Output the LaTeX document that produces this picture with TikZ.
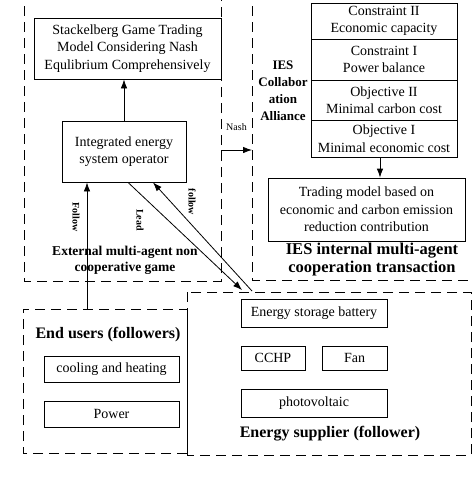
\documentclass[tikz,border=0pt]{standalone}
\usepackage{fontspec}
\setmainfont{Liberation Serif}
\usetikzlibrary{arrows.meta}

\tikzset{
  box/.style={draw, line width=0.8pt, align=center, inner sep=0pt, font=\fontsize{14}{17.5}\selectfont},
  zone/.style={draw, line width=0.9pt, dash pattern=on 10pt off 6pt},
  tag/.style={font=\bfseries\fontsize{16}{18}\selectfont, align=center, inner sep=0pt},
  arr/.style={-{Latex[length=9pt,width=6.5pt]}, line width=0.8pt},
  lbl/.style={font=\bfseries\fontsize{10}{11}\selectfont, rotate=-90, inner sep=0pt}
}

\begin{document}
\begin{tikzpicture}[x=1pt,y=1pt,yscale=-1,xscale=1]
\clip (0,0) rectangle (474,483);

%Dashed zones
\draw [zone] (24,-10) -- (24,281) -- (221,281) -- (221,-10) ;
\draw [zone] (252,-10) -- (252,280) -- (490,280) ;
\draw [zone] (187,292) rectangle (471,455) ;
\draw [zone] (187,453) -- (23,453) -- (23,309) -- (187,309) ;
\draw [line width=0.8pt] (187,309) -- (187,453) ;

%Leader side
\node [box, minimum width=187pt, minimum height=61pt] (stack) at (127.5,48.5) {Stackelberg Game Trading\\Model Considering Nash\\Equlibrium Comprehensively};
\node [box, minimum width=124pt, minimum height=61pt] (op) at (124,151.5) {Integrated energy\\system operator};

%Constraints and objectives
\node [box, minimum width=146pt, minimum height=36pt] (con2) at (384,21) {Constraint II\\Economic capacity};
\node [box, minimum width=146pt, minimum height=41pt] (con1) at (384,59.5) {Constraint I\\Power balance};
\node [box, minimum width=146pt, minimum height=40pt] (obj2) at (384,100) {Objective  II\\Minimal carbon cost};
\node [box, minimum width=146pt, minimum height=37pt] (obj1) at (384,138.5) {Objective I\\Minimal economic cost};
\node [box, minimum width=197pt, minimum height=63pt] (trade) at (366.5,209.5) {Trading model based on\\economic and carbon emission\\reduction contribution};

%Energy supplier
\node [box, minimum width=146pt, minimum height=28pt] (bat) at (314,313) {Energy storage battery};
\node [box, minimum width=64pt, minimum height=24pt] (cchp) at (273,358) {CCHP};
\node [box, minimum width=65pt, minimum height=24pt] (fan) at (354.5,358) {Fan};
\node [box, minimum width=146pt, minimum height=28pt] (pv) at (314,403) {photovoltaic};

%End users
\node [box, minimum width=135pt, minimum height=26pt] (cool) at (111.5,369) {cooling and heating};
\node [box, minimum width=135pt, minimum height=26pt] (pow) at (111.5,414) {Power};

% Text Node
\node [tag, font=\bfseries\fontsize{13}{17}\selectfont] (ies) at (283,91) {IES\\Collabor\\ation\\Alliance};
\node [tag, font=\bfseries\fontsize{16.5}{18}\selectfont] (internal) at (372,260) {IES internal multi-agent\\cooperation transaction};
\node [tag, font=\bfseries\fontsize{13.5}{16}\selectfont] (external) at (125,260) {External multi-agent non\\cooperative game};
\node [tag] (users) at (108,335) {End users (followers)};
\node [tag] (supplier) at (330,434) {Energy supplier (follower)};

%Anchors on the zones
\coordinate (extR) at (221,150);
\coordinate (allL) at (252,150);
\coordinate (usersTop) at (87,309);
\coordinate (leadEnd) at (242,290);
\coordinate (folStart) at (252,291);

%Arrows
\draw [arr] (op.north) -- (op.north |- stack.south);
\draw [arr] ([xshift=-4pt]obj1.south) -- ([xshift=-4pt]obj1.south |- trade.north);
\draw [arr] (extR) -- node [above=16pt, font=\fontsize{10}{11}\selectfont] (nash) {Nash} (allL);
\draw [arr] (usersTop) -- (usersTop |- op.south);
\draw [arr] ([xshift=4pt]op.south) -- (leadEnd);
\draw [arr] (folStart) -- ([xshift=29pt]op.south);

% Arrow labels
\node [lbl] (fol1) at (76,217) {Follow};
\node [lbl] (lead) at (140,220) {Lead};
\node [lbl] (fol2) at (192,202) {follow};

\end{tikzpicture}
\end{document}
